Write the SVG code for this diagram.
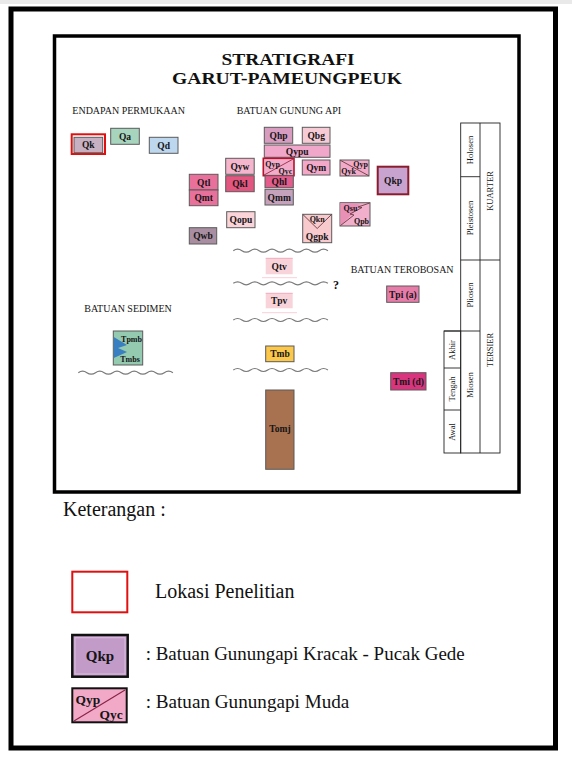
<svg xmlns="http://www.w3.org/2000/svg" width="572" height="757" viewBox="0 0 572 757">
<style>
.box{stroke:#5a5a5a;stroke-width:1}
.lbl{font-family:"Liberation Serif",serif;font-weight:bold;font-size:9.5px;text-anchor:middle;fill:#151515}
.sm{font-size:8px}
.big{font-size:13.5px}
.hdr{font-family:"Liberation Serif",serif;font-size:10px;fill:#151515}
.wave{fill:none;stroke:#7a7a7a;stroke-width:1.2}
.tbl{fill:none;stroke:#222;stroke-width:0.9}
.tt{font-family:"Liberation Serif",serif;font-size:8.5px;text-anchor:middle;fill:#151515}
.leg{font-family:"Liberation Serif",serif;fill:#111}
.ttl{font-family:"Liberation Serif",serif;font-weight:bold;font-size:17px;text-anchor:middle;fill:#111}
</style>
<rect x="0" y="0" width="572" height="757" fill="#ffffff"/>
<rect x="0" y="0" width="572" height="4" fill="#e9e9e9"/>
<rect id="outer-frame" x="11" y="9" width="544.5" height="739" fill="none" stroke="#000" stroke-width="5"/>
<rect id="inner-frame" x="54.5" y="36" width="464.5" height="456" fill="none" stroke="#000" stroke-width="3.5"/>

<g id="title">
<text class="ttl" x="288" y="64.5" textLength="133" lengthAdjust="spacingAndGlyphs">STRATIGRAFI</text>
<text class="ttl" x="287" y="84" textLength="230" lengthAdjust="spacingAndGlyphs">GARUT-PAMEUNGPEUK</text>
</g>

<g id="headers">
<text class="hdr" x="72.3" y="113.5">ENDAPAN PERMUKAAN</text>
<text class="hdr" x="236.7" y="114">BATUAN GUNUNG API</text>
<text class="hdr" x="350.7" y="273.3">BATUAN TEROBOSAN</text>
<text class="hdr" x="84.3" y="312.3">BATUAN SEDIMEN</text>
</g>

<g id="connectors">
<path class="wave" d="M233.3,250.7 q4.3,-3 8.6,0 t8.6,0 t8.6,0 t8.6,0 t8.6,0 t8.6,0 t8.6,0 t8.6,0 t8.6,0 t8.6,0 t8.6,0"/>
<path class="wave" d="M233.3,283.3 q4.3,-3 8.6,0 t8.6,0 t8.6,0 t8.6,0 t8.6,0 t8.6,0 t8.6,0 t8.6,0 t8.6,0 t8.6,0 t8.6,0"/>
<path class="wave" d="M233.3,320 q4.3,-3 8.6,0 t8.6,0 t8.6,0 t8.6,0 t8.6,0 t8.6,0 t8.6,0 t8.6,0 t8.6,0 t8.6,0 t8.6,0"/>
<path class="wave" d="M233.3,370 q4.3,-3 8.6,0 t8.6,0 t8.6,0 t8.6,0 t8.6,0 t8.6,0 t8.6,0 t8.6,0 t8.6,0 t8.6,0 t8.6,0"/>
<path class="wave" d="M78.3,372.7 q4.3,-3 8.6,0 t8.6,0 t8.6,0 t8.6,0 t8.6,0 t8.6,0 t8.6,0 t8.6,0 t8.6,0 t8.6,0 t8.6,0"/>
<text x="333" y="289" font-family="Liberation Serif,serif" font-weight="bold" font-size="12" fill="#111">?</text>
</g>

<g id="Qk">
<rect x="71.7" y="134.3" width="33.3" height="19.7" fill="none" stroke="#e01010" stroke-width="2"/>
<rect class="box" x="74" y="137.3" width="28.7" height="15.4" fill="#c7b0c2"/>
<text class="lbl" x="88.3" y="148.3">Qk</text>
</g>
<g id="Qa"><rect class="box" x="110.7" y="128.3" width="28.6" height="16" fill="#a7d4bc"/><text class="lbl" x="125" y="139.6">Qa</text></g>
<g id="Qd"><rect class="box" x="149.3" y="137.3" width="28.7" height="16" fill="#bdd7ee"/><text class="lbl" x="163.7" y="148.6">Qd</text></g>
<g id="Qyw"><rect class="box" x="225.7" y="158.3" width="28.5" height="16" fill="#f4b5cd"/><text class="lbl" x="239.9" y="169.6">Qyw</text></g>
<g id="Qkl"><rect class="box" x="225.7" y="175.7" width="28.5" height="16" fill="#e2567f"/><text class="lbl" x="239.9" y="187">Qkl</text></g>
<g id="Qtl"><rect class="box" x="189.3" y="174.3" width="28.7" height="15.7" fill="#e8709a"/><text class="lbl" x="203.7" y="185.5">Qtl</text></g>
<g id="Qmt"><rect class="box" x="189.3" y="190" width="28.7" height="15.7" fill="#e8709a"/><text class="lbl" x="203.7" y="201.2">Qmt</text></g>
<g id="Qopu"><rect class="box" x="226.7" y="211.7" width="28.3" height="16" fill="#fad4d9"/><text class="lbl" x="240.9" y="223">Qopu</text></g>
<g id="Qwb"><rect class="box" x="189.3" y="227.7" width="27.4" height="16.3" fill="#a88ea0"/><text class="lbl" x="203" y="239.2">Qwb</text></g>
<g id="Qhp"><rect class="box" x="264.3" y="127.3" width="28.4" height="16" fill="#d79cc0"/><text class="lbl" x="278.5" y="138.6">Qhp</text></g>
<g id="Qbg"><rect class="box" x="302.3" y="127.3" width="27.7" height="16" fill="#f7cbd6"/><text class="lbl" x="316.2" y="138.6">Qbg</text></g>
<g id="Qypu"><rect class="box" x="264.3" y="145" width="65.7" height="12.3" fill="#f1a7c9"/><text class="lbl" x="297.2" y="154.5">Qypu</text></g>
<g id="Qyp-Qyc">
<rect x="263.3" y="158.3" width="30.7" height="17.4" fill="#f2abc9" stroke="#b3142c" stroke-width="1.6"/>
<line x1="263.8" y1="175.2" x2="293.5" y2="158.8" stroke="#9a2a45" stroke-width="0.9"/>
<text class="lbl sm" x="272.5" y="166.5">Qyp</text><text class="lbl sm" x="285.5" y="174">Qyc</text>
</g>
<g id="Qym"><rect class="box" x="302.3" y="160" width="27.7" height="15" fill="#f3a8c9"/><text class="lbl" x="316.2" y="170.8">Qym</text></g>
<g id="Qhl"><rect class="box" x="265" y="175.7" width="28.3" height="12" fill="#e35c8b"/><text class="lbl" x="279.2" y="185">Qhl</text></g>
<g id="Qmm"><rect class="box" x="265" y="189.3" width="28.3" height="15.7" fill="#c6a1bb"/><text class="lbl" x="279.2" y="200.5">Qmm</text></g>
<g id="Qkn-Qgpk">
<rect class="box" x="302.7" y="214.3" width="29" height="28.4" fill="#f8c9cd"/>
<path d="M302.9,214.5 L317.2,228.5 L331.5,214.5" fill="none" stroke="#6a3a40" stroke-width="0.9"/>
<text class="lbl sm" x="317.2" y="222">Qkn</text><text class="lbl" x="317.2" y="239.5">Qgpk</text>
</g>
<g id="Qyp-Qyk">
<rect class="box" x="340" y="160" width="29" height="16" fill="#f3aac9"/>
<line x1="340.3" y1="160.3" x2="368.7" y2="175.7" stroke="#6a3a40" stroke-width="0.9"/>
<text class="lbl sm" x="360.5" y="167">Qyp</text><text class="lbl sm" x="348.5" y="174.3">Qyk</text>
</g>
<g id="Qkp"><rect x="377.7" y="166.7" width="30.6" height="27.6" fill="#c9a3cf" stroke="#8a1c2c" stroke-width="2"/><text class="lbl" x="393" y="183.8">Qkp</text></g>
<g id="Qsu-Qpb">
<rect class="box" x="340" y="202.7" width="30" height="23.3" fill="#f1afcb"/>
<path d="M340.3,203 L352,203 L361,205 L340.3,226 Z" fill="#e990b6"/>
<path d="M340.3,225.7 L354,215 L350,214 L362,207.5 L358,207 L369.7,203" fill="none" stroke="#6a3a40" stroke-width="0.9"/>
<text class="lbl sm" x="350.5" y="210.8">Qsu</text><text class="lbl sm" x="361.5" y="223.5">Qpb</text>
</g>
<g id="Qtv">
<rect x="265.7" y="258.3" width="27" height="16" fill="#f9d3da"/>
<line x1="265.7" y1="258.3" x2="292.7" y2="258.3" stroke="#f09aae" stroke-width="0.8"/>
<line x1="262" y1="277.7" x2="297" y2="277.7" stroke="#f6c3cd" stroke-width="0.8"/>
<text class="lbl" x="279.2" y="269.6">Qtv</text>
</g>
<g id="Tpv">
<rect x="265.7" y="293.3" width="27" height="15" fill="#f9d3da"/>
<line x1="265.7" y1="293.3" x2="292.7" y2="293.3" stroke="#f09aae" stroke-width="0.8"/>
<line x1="262" y1="312.7" x2="297" y2="312.7" stroke="#f6c3cd" stroke-width="0.8"/>
<text class="lbl" x="279.2" y="304.1">Tpv</text>
</g>
<g id="Tmb"><rect class="box" x="265.7" y="346" width="28.3" height="15.7" fill="#fcc84c"/><text class="lbl" x="279.9" y="357.2">Tmb</text></g>
<g id="Tomj"><rect class="box" x="265.7" y="390" width="28.3" height="79.3" fill="#a8714f"/><text class="lbl" x="279.9" y="432">Tomj</text></g>
<g id="Tpi-a"><rect class="box" x="386.7" y="286" width="32.3" height="16.3" fill="#e77ca9"/><text class="lbl" x="402.9" y="297.5">Tpi (a)</text></g>
<g id="Tmi-d"><rect class="box" x="390.7" y="372.7" width="35.3" height="17.3" fill="#d9357f"/><text class="lbl" x="408.4" y="384.7">Tmi (d)</text></g>
<g id="Tpmb-Tmbs">
<rect class="box" x="113.3" y="331" width="29.4" height="34" fill="#93cab0"/>
<polygon points="113.8,337 127,345 118,348 127,352 113.8,358" fill="#3a7fc2"/>
<text class="lbl sm" x="131.5" y="341.5">Tpmb</text><text class="lbl sm" x="130" y="361.5">Tmbs</text>
</g>

<g id="time-table">
<rect class="tbl" x="460.7" y="123" width="39.3" height="330"/>
<line class="tbl" x1="480" y1="123" x2="480" y2="453"/>
<line class="tbl" x1="460.7" y1="176.7" x2="480" y2="176.7"/>
<line class="tbl" x1="460.7" y1="260" x2="500" y2="260"/>
<line class="tbl" x1="444" y1="331" x2="480" y2="331"/>
<rect class="tbl" x="444" y="331" width="16.7" height="122"/>
<line class="tbl" x1="444" y1="368" x2="460.7" y2="368"/>
<line class="tbl" x1="444" y1="410" x2="460.7" y2="410"/>
<text class="tt" transform="rotate(-90 473 150)" x="473" y="150">Holosen</text>
<text class="tt" transform="rotate(-90 473 218)" x="473" y="218">Pleistosen</text>
<text class="tt" transform="rotate(-90 473 295)" x="473" y="295">Pliosen</text>
<text class="tt" transform="rotate(-90 473 385)" x="473" y="385">Miosen</text>
<text class="tt" transform="rotate(-90 493 191)" x="493" y="191">KUARTER</text>
<text class="tt" transform="rotate(-90 493 350)" x="493" y="350">TERSIER</text>
<text class="tt" transform="rotate(-90 455 350)" x="455" y="350">Akhir</text>
<text class="tt" transform="rotate(-90 455 389)" x="455" y="389">Tengah</text>
<text class="tt" transform="rotate(-90 455 432)" x="455" y="432">Awal</text>
</g>

<g id="legend">
<text class="leg" x="63" y="516" font-size="20">Keterangan :</text>
<g id="leg-lokasi">
<rect x="72.3" y="571.7" width="55" height="40.6" fill="#fff" stroke="#e01010" stroke-width="2"/>
<text class="leg" x="155" y="598.3" font-size="20">Lokasi Penelitian</text>
</g>
<g id="leg-qkp">
<rect x="72.3" y="635" width="55.4" height="41.7" fill="#c39bc9" stroke="#111" stroke-width="2.5"/>
<rect x="75" y="637.7" width="50" height="36.3" fill="none" stroke="#d9bfdc" stroke-width="1"/>
<text class="lbl" x="100" y="661" style="font-size:15px">Qkp</text>
<text class="leg" x="145.7" y="660" font-size="18.5" textLength="319" lengthAdjust="spacingAndGlyphs">: Batuan Gunungapi Kracak - Pucak Gede</text>
</g>
<g id="leg-qyp">
<rect x="72.3" y="688.3" width="54.4" height="34" fill="#f2a9c8" stroke="#111" stroke-width="2"/>
<line x1="74" y1="721" x2="125" y2="690" stroke="#8a2444" stroke-width="1.2"/>
<text class="lbl big" x="88" y="704">Qyp</text>
<text class="lbl big" x="111" y="719">Qyc</text>
<text class="leg" x="145.7" y="708.3" font-size="18.5" textLength="203.6" lengthAdjust="spacingAndGlyphs">: Batuan Gunungapi Muda</text>
</g>
</g>
</svg>
